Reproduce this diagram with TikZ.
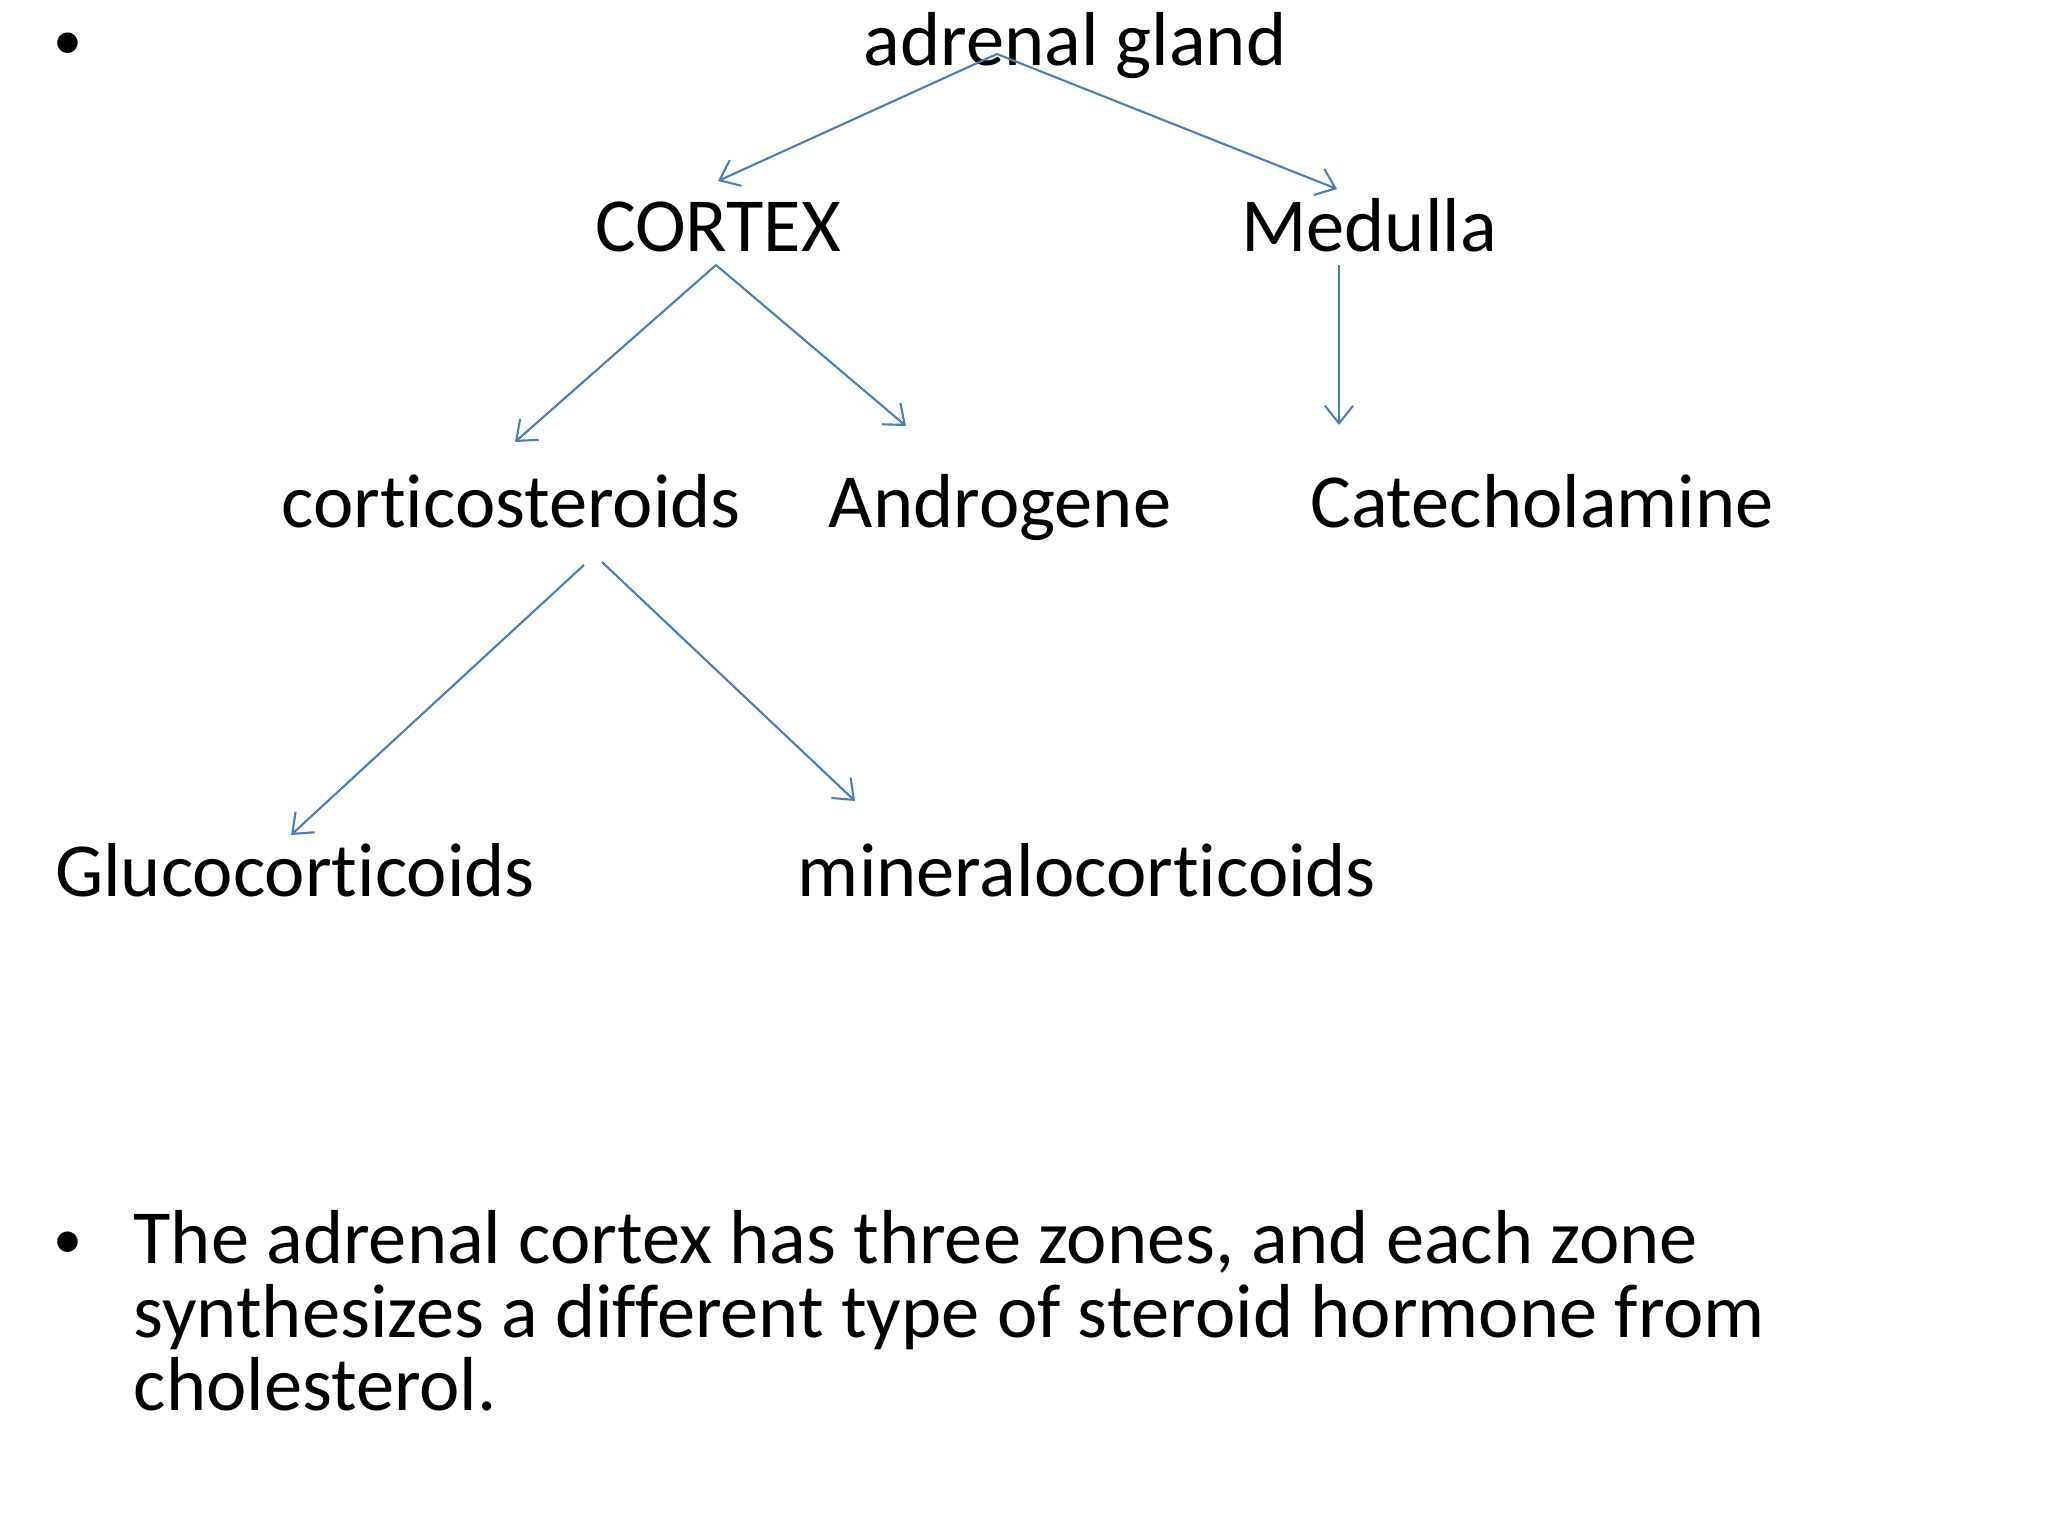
\documentclass[tikz,border=0pt]{standalone}
\usepackage{fontspec}
\setmainfont{Carlito}[Ligatures=NoCommon]
\usetikzlibrary{arrows.meta,calc}
\definecolor{arrowblue}{HTML}{4A7EBB}
\tikzset{
  lbl/.style={anchor=base, inner sep=0pt, font=\fontsize{21.75pt}{26pt}\selectfont},
  lbll/.style={anchor=base west, inner sep=0pt, font=\fontsize{21.75pt}{26pt}\selectfont},
  bul/.style={anchor=base, inner sep=0pt, font=\fontsize{16.5pt}{20pt}\selectfont},
  arr/.style={draw=arrowblue, line width=0.6pt, -{Straight Barb[length=5pt,width=8pt]}}
}
\begin{document}
\begin{tikzpicture}[x=0.01cm,y=0.01cm]
\fill[white] (0,0) rectangle (2048,-1536);
\useasboundingbox (0,0) rectangle (2048,-1536);
% bullets and labels
\node[bul] (b1) at (68,-59) {•};
\node[lbl] (ag) at (1075,-65) {adrenal gland};
\node[lbl] (cortex) at (718,-251) {CORTEX};
\node[lbl] (medulla) at (1369,-251) {Medulla};
\node[lbl] (cortico) at (511,-527) {corticosteroids};
\node[lbl] (andro) at (1000,-527) {Androgene};
\node[lbl] (cate) at (1542,-527) {Catecholamine};
\node[lbl] (gluco) at (295,-896) {Glucocorticoids};
\node[lbl] (mineral) at (1087,-896) {mineralocorticoids};
% bottom paragraph
\node[bul] (b2) at (68,-1258) {•};
\node[lbll] (p1) at (133,-1263) {The adrenal cortex has three zones, and each zone};
\node[lbll] (p2) at (133,-1337) {synthesizes a different type of steroid hormone from};
\node[lbll] (p3) at (133,-1410) {cholesterol.};
% connectors
\draw[arr] ($(ag.base)+(-78,11)$) -- ($(cortex.base)+(0,70)$);
\draw[arr] ($(ag.base)+(-78,11)$) -- ($(medulla.base)+(-32,62)$);
\draw[arr] ($(cortex.base)+(-2,-14)$) -- ($(cortico.base)+(4,85)$);
\draw[arr] ($(cortex.base)+(-2,-14)$) -- ($(andro.base)+(-94,101)$);
\draw[arr] ($(medulla.base)+(-30,-14)$) -- ($(cate.base)+(-203,102)$);
\draw[arr] ($(cortico.base)+(73,-38)$) -- ($(gluco.base)+(-4,61)$);
\draw[arr] ($(cortico.base)+(91,-35)$) -- ($(mineral.base)+(-232,95)$);
\end{tikzpicture}
\end{document}
